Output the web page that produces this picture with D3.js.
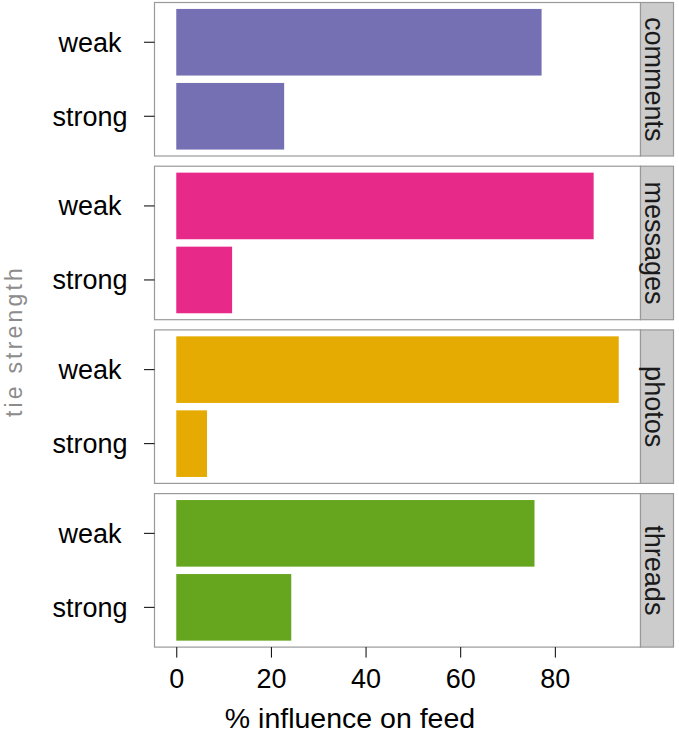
<!DOCTYPE html>
<html>
<head>
<meta charset="utf-8">
<script src="https://cdn.jsdelivr.net/npm/d3@7/dist/d3.min.js"></script>
<style>
  html, body { margin: 0; padding: 0; background: #ffffff; }
  svg { display: block; font-family: "Liberation Sans", Arial, Helvetica, sans-serif; }
</style>
</head>
<body>
<svg id="chart" width="679" height="733"></svg>
<script>
// ---- data ----
const panels = ["comments", "messages", "photos", "threads"];
const ties = ["weak", "strong"];
const weakValues = [77.2, 88.2, 93.5, 75.7];
const strongValues = [22.8, 11.8, 6.5, 24.3];
const panelColors = ["#7570b3", "#e7298a", "#e6ab02", "#66a61e"];
const xTicks = [0, 20, 40, 60, 80];
const xTitle = "% influence on feed";
const yTitle = "tie strength";

// ---- layout ----
const svg = d3.select("#chart");
const plotLeft = 154.5, plotRight = 640.5, stripRight = 673.5;
const firstTop = 2.5, panelH = 153.5, panelStep = 163.7;
const borderColor = "#999999";

const x = d3.scaleLinear().domain([-4.6, 98.1]).range([plotLeft, plotRight]);

panels.forEach((p, i) => {
  const top = firstTop + i * panelStep;
  const y = d3.scaleBand().domain(ties).range([top, top + panelH])
    .paddingInner(0.1).paddingOuter(0.087);
  const vals = { weak: weakValues[i], strong: strongValues[i] };
  const g = svg.append("g");

  // panel box
  g.append("rect").attr("x", plotLeft).attr("y", top)
    .attr("width", plotRight - plotLeft).attr("height", panelH)
    .attr("fill", "#ffffff").attr("stroke", borderColor).attr("stroke-width", 1.2);

  // bars
  g.selectAll("rect.bar").data(ties).enter().append("rect")
    .attr("class", "bar")
    .attr("x", x(0))
    .attr("y", d => y(d))
    .attr("width", d => x(vals[d]) - x(0))
    .attr("height", y.bandwidth())
    .attr("fill", panelColors[i]);

  // strip
  g.append("rect").attr("x", plotRight).attr("y", top)
    .attr("width", stripRight - plotRight).attr("height", panelH)
    .attr("fill", "#cccccc").attr("stroke", borderColor).attr("stroke-width", 1.2);
  g.append("text")
    .attr("transform", `translate(${plotRight + 4.5},${top + panelH / 2}) rotate(90)`)
    .attr("text-anchor", "middle")
    .attr("font-size", 27)
    .attr("fill", "#1a1a1a")
    .text(p);

  // y axis ticks + labels
  ties.forEach(t => {
    const cy = y(t) + y.bandwidth() / 2;
    g.append("line").attr("x1", plotLeft - 10.5).attr("x2", plotLeft)
      .attr("y1", cy).attr("y2", cy).attr("stroke", "#000").attr("stroke-width", 1);
    g.append("text").attr("x", 90).attr("y", cy).attr("dy", "0.35em")
      .attr("text-anchor", "middle").attr("font-size", 27).attr("fill", "#000")
      .text(t);
  });
});

// x axis
const bottom = firstTop + 3 * panelStep + panelH;
const xAxis = d3.axisBottom(x).tickValues(xTicks).tickSize(10.5).tickPadding(11);
const ax = svg.append("g").attr("transform", `translate(0,${bottom})`).call(xAxis);
ax.select(".domain").remove();
ax.selectAll(".tick line").attr("stroke", "#000").attr("stroke-width", 1);
ax.selectAll(".tick text").attr("font-size", 27).attr("fill", "#000")
  .attr("font-family", "'Liberation Sans', Arial, sans-serif");

// titles
svg.append("text").attr("x", 350).attr("y", 728)
  .attr("text-anchor", "middle").attr("font-size", 28.5).attr("fill", "#000")
  .text(xTitle);

svg.append("text")
  .attr("transform", `translate(21.5,341) rotate(-90)`)
  .attr("text-anchor", "middle").attr("font-size", 23).attr("letter-spacing", 3.2)
  .attr("fill", "#8c8c8c")
  .text(yTitle);
</script>
</body>
</html>
